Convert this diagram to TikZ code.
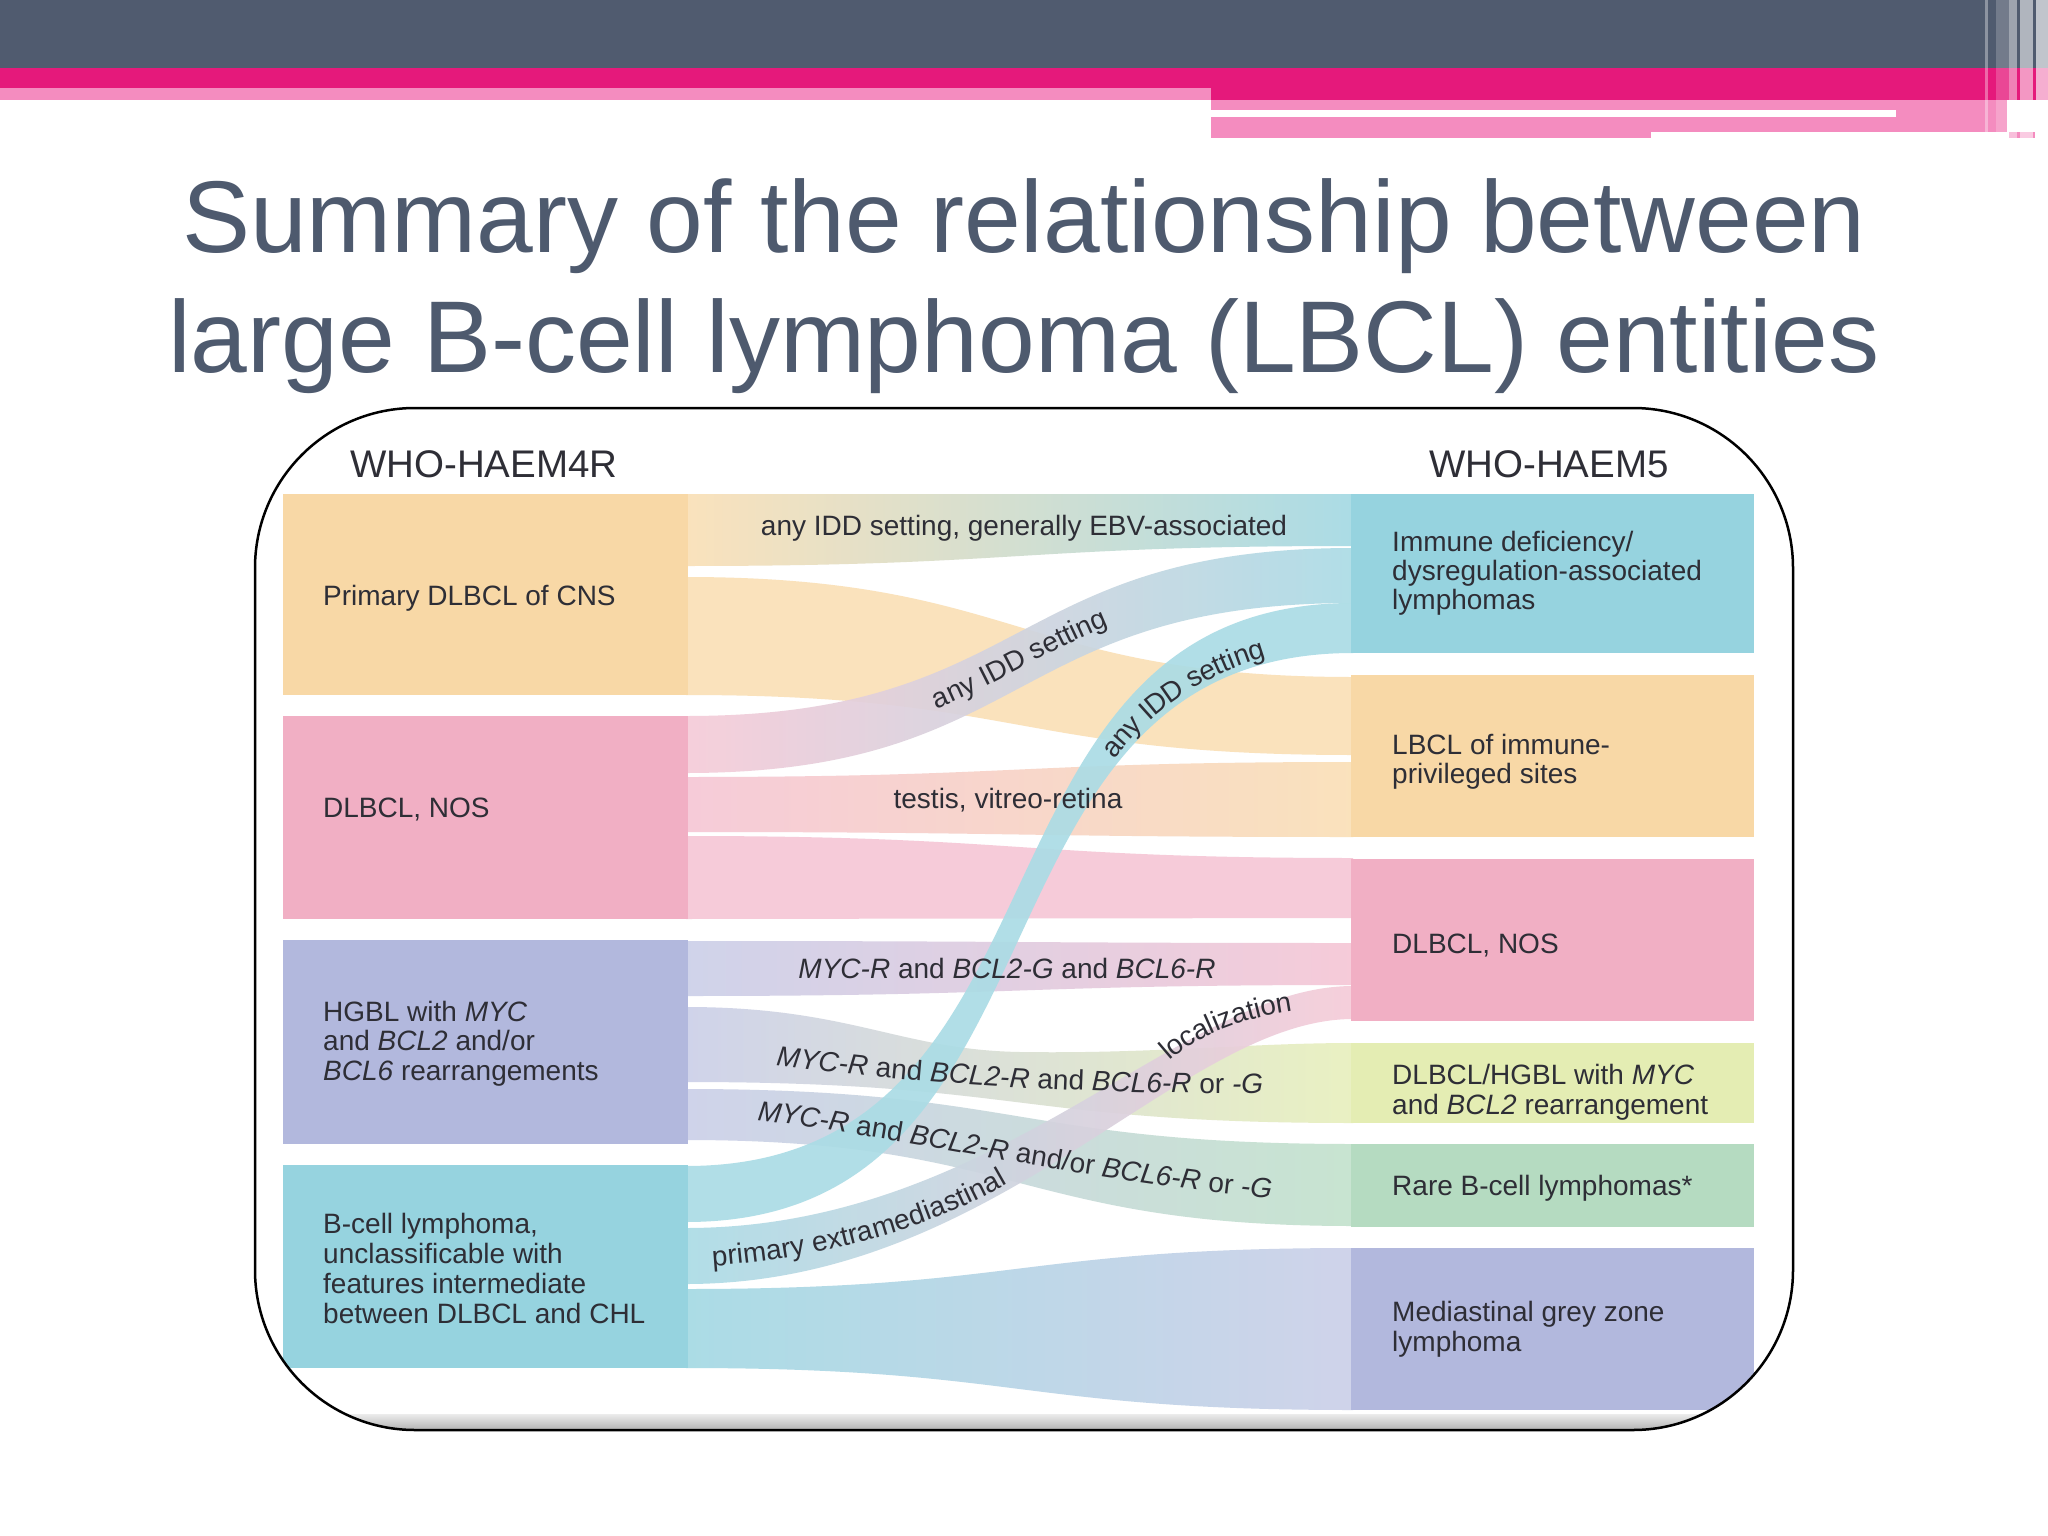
\documentclass[tikz,border=0pt]{standalone}
\usepackage{fontspec}
\setmainfont{Liberation Sans}
\usetikzlibrary{decorations.text}
\definecolor{slate}{HTML}{505B6F}
\definecolor{titlec}{HTML}{4E5A6E}
\definecolor{magbar}{HTML}{E5197B}
\definecolor{pinkbar}{HTML}{F48CBF}
\definecolor{corange}{HTML}{F8D8A6}
\definecolor{cpink}{HTML}{F1AFC4}
\definecolor{clav}{HTML}{B2B8DD}
\definecolor{cteal}{HTML}{96D3DF}
\definecolor{cyellow}{HTML}{E4EDB3}
\definecolor{cgreen}{HTML}{B5DBC1}
\definecolor{txt}{HTML}{2E2E36}
\colorlet{bor}{corange!75!white}
\colorlet{bpk}{cpink!65!white}
\colorlet{blav}{clav!62!white}
\colorlet{bteal}{cteal!80!white}
\colorlet{byel}{cyellow!80!white}
\colorlet{bgrn}{cgreen!75!white}
\newcommand\lblfont{\fontsize{28}{30}\selectfont}
\newcommand\stack[2]{\vtop{\baselineskip=#1pt\lineskiplimit=-100pt\lineskip=0pt #2}}
\newcommand\sband[7][331]{%
  \shade[left color=#2,right color=#3] (686,#4) .. controls (688+#1,#4) and (1351-#1,#6) .. (1353,#6) -- (1353,#7) .. controls (1351-#1,#7) and (688+#1,#5) .. (686,#5) -- cycle;}
\tikzset{
  boxn/.style={inner sep=0pt, outer sep=0pt, anchor=north west, draw=none},
  lbl/.style={font=\lblfont, text=txt, inner sep=0pt, anchor=base west},
  hdr/.style={font=\fontsize{38.5}{42}\selectfont, text=txt, inner sep=0pt, anchor=base west},
  ttl/.style={font=\fontsize{102}{110}\selectfont, text=titlec, inner sep=0pt, anchor=base},
  ctr/.style={font=\lblfont, text=txt, inner sep=0pt, anchor=base},
}
\begin{document}
\begin{tikzpicture}[x=1pt,y=-1pt]
\useasboundingbox (0,0) rectangle (2048,1536);
\fill[white] (0,0) rectangle (2048,1536);
% header bars
\fill[slate] (0,0) rectangle (2048,68);
\fill[magbar] (0,68) rectangle (2048,88);
\fill[magbar] (1211,88) rectangle (2048,100);
\fill[pinkbar] (0,88) rectangle (1211,100);
\fill[pinkbar] (1211,100) rectangle (2007,132);
\fill[pinkbar] (1211,132) rectangle (1651,138);
\fill[white] (1211,110) rectangle (1896,117);
\fill[pinkbar] (2009,132) rectangle (2035,138);
\fill[white,opacity=.35] (1985,0) rectangle (1988,132);
\fill[white,opacity=.2] (1996,0) rectangle (2009,132);
\fill[white,opacity=.45] (2009,0) rectangle (2017,138);
\fill[white,opacity=.55] (2020,0) rectangle (2033,138);
\fill[white,opacity=.65] (2036,0) rectangle (2048,138);
% title
\node[ttl] (title1) at (1024,252) {Summary of the relationship between};
\node[ttl] (title2) at (1024,372) {large B-cell lymphoma (LBCL) entities};
% diagram
\begin{scope}
\clip[rounded corners=160pt] (255,408) rectangle (1793,1430);
% flows
\sband{bor}{bteal}{494}{566}{494}{546}
\sband{bor}{bor}{577}{695}{677}{755}
\sband{bpk}{bpk}{836}{919}{858}{918}
\sband{bpk}{bor}{777}{832}{762}{837}
\sband{blav}{bpk}{941}{996}{943}{985}
\shade[left color=blav,right color=byel] (686,1007) .. controls (850,1007) and (900,1050) .. (1020,1052) .. controls (1150,1054) and (1250,1043) .. (1353,1043) -- (1353,1123) .. controls (1020,1123) and (1020,1082) .. (686,1082) -- cycle;
\sband{blav}{bgrn}{1089}{1140}{1144}{1226}
\sband{bteal}{blav}{1289}{1368}{1248}{1410}
\begin{scope}[fill opacity=0.92]
\sband[344]{bpk}{bteal}{716}{773}{548}{603}
\shade[left color=bteal,right color=bpk] (686,1228) .. controls (1000,1228) and (1180,986) .. (1353,986) -- (1353,1019) .. controls (1180,1019) and (1000,1284) .. (686,1284) -- cycle;
\sband[400]{bteal}{bteal}{1166}{1222}{603}{653}
\end{scope}
% boxes
\node[boxn, fill=corange, minimum width=405pt, minimum height=201pt] (L1) at (283,494) {};
\node[boxn, fill=cpink, minimum width=405pt, minimum height=203pt] (L2) at (283,716) {};
\node[boxn, fill=clav, minimum width=405pt, minimum height=204pt] (L3) at (283,940) {};
\node[boxn, fill=cteal, minimum width=405pt, minimum height=203pt] (L4) at (283,1165) {};
\node[boxn, fill=cteal, minimum width=403pt, minimum height=159pt] (R1) at (1351,494) {};
\node[boxn, fill=corange, minimum width=403pt, minimum height=162pt] (R2) at (1351,675) {};
\node[boxn, fill=cpink, minimum width=403pt, minimum height=162pt] (R3) at (1351,859) {};
\node[boxn, fill=cyellow, minimum width=403pt, minimum height=80pt] (R4) at (1351,1043) {};
\node[boxn, fill=cgreen, minimum width=403pt, minimum height=83pt] (R5) at (1351,1144) {};
\node[boxn, fill=clav, minimum width=403pt, minimum height=162pt] (R6) at (1351,1248) {};
% bottom shadow
\shade[top color=gray!15, bottom color=gray!60] (255,1414) rectangle (1793,1430);
\end{scope}
% headers
\node[hdr] (h4) at (350,477) {WHO-HAEM4R};
\node[hdr] (h5) at (1429,477) {WHO-HAEM5};
% box labels
\node[lbl] (l1t) at (323,605) {Primary DLBCL of CNS};
\node[lbl] (l2t) at (323,817) {DLBCL, NOS};
\node[lbl] (l3t) at (323,1021) {\stack{29.5}{\hbox{HGBL with \textit{MYC}}\hbox{and \textit{BCL2} and/or}\hbox{\textit{BCL6} rearrangements}}};
\node[lbl] (l4t) at (323,1233) {\stack{30}{\hbox{B-cell lymphoma,}\hbox{unclassificable with}\hbox{features intermediate}\hbox{between DLBCL and CHL}}};
\node[lbl] (r1t) at (1392,551) {\stack{29}{\hbox{Immune deficiency/}\hbox{dysregulation-associated}\hbox{lymphomas}}};
\node[lbl] (r2t) at (1392,754) {\stack{29}{\hbox{LBCL of immune-}\hbox{privileged sites}}};
\node[lbl] (r3t) at (1392,953) {DLBCL, NOS};
\node[lbl] (r4t) at (1392,1084) {\stack{30}{\hbox{DLBCL/HGBL with \textit{MYC}}\hbox{and \textit{BCL2} rearrangement}}};
\node[lbl] (r5t) at (1392,1195) {Rare B-cell lymphomas*};
\node[lbl] (r6t) at (1392,1321) {\stack{30}{\hbox{Mediastinal grey zone}\hbox{lymphoma}}};
% flow labels
\node[ctr] (f1t) at (1024,535) {any IDD setting, generally EBV-associated};
\node[ctr] (f5t) at (1008,808) {testis, vitreo-retina};
\node[ctr] (f7t) at (1007,978) {\textit{MYC-R} and \textit{BCL2-G} and \textit{BCL6-R}};
\begin{scope}
\lblfont
\path[decorate,decoration={text along path, text={|\lblfont|any IDD setting}, text align=center, text color=txt, raise=-8pt}] (686,744.5) .. controls (1032,744.5) and (1007,575.5) .. (1353,575.5);
\path[decorate,decoration={text along path, text={|\lblfont|any IDD setting}, text align=center, text color=txt, raise=-8pt}] (1098,768) .. controls (1140,710) and (1190,668) .. (1280,645);
\path[decorate,decoration={text along path, text={|\lblfont|primary extramediastinal}, text color=txt, raise=-8pt}] (712,1258) .. controls (830,1250) and (950,1215) .. (1030,1160);
\path[decorate,decoration={text along path, text={|\lblfont|localization}, text align=center, text color=txt, raise=-8pt}] (1150,1070) .. controls (1180,1033) and (1237,1008) .. (1312,1001);
\path[decorate,decoration={text along path, text={|\lblfont\itshape|MYC-R|\lblfont\upshape| and |\lblfont\itshape|BCL2-R|\lblfont\upshape| and |\lblfont\itshape|BCL6-R|\lblfont\upshape| or |\lblfont\itshape|-G}, text align=center, text color=txt, raise=-9pt}] (765,1055) .. controls (900,1072) and (1050,1086) .. (1275,1084);
\path[decorate,decoration={text along path, text={|\lblfont\itshape|MYC-R|\lblfont\upshape| and |\lblfont\itshape|BCL2-R|\lblfont\upshape| and/or |\lblfont\itshape|BCL6-R|\lblfont\upshape| or |\lblfont\itshape|-G}, text align=center, text color=txt, raise=-9pt}] (748,1110) .. controls (880,1124) and (1100,1175) .. (1282,1190);
\end{scope}
% frame
\draw[line width=2.5pt, rounded corners=160pt] (255,408) rectangle (1793,1430);
\end{tikzpicture}
\end{document}
